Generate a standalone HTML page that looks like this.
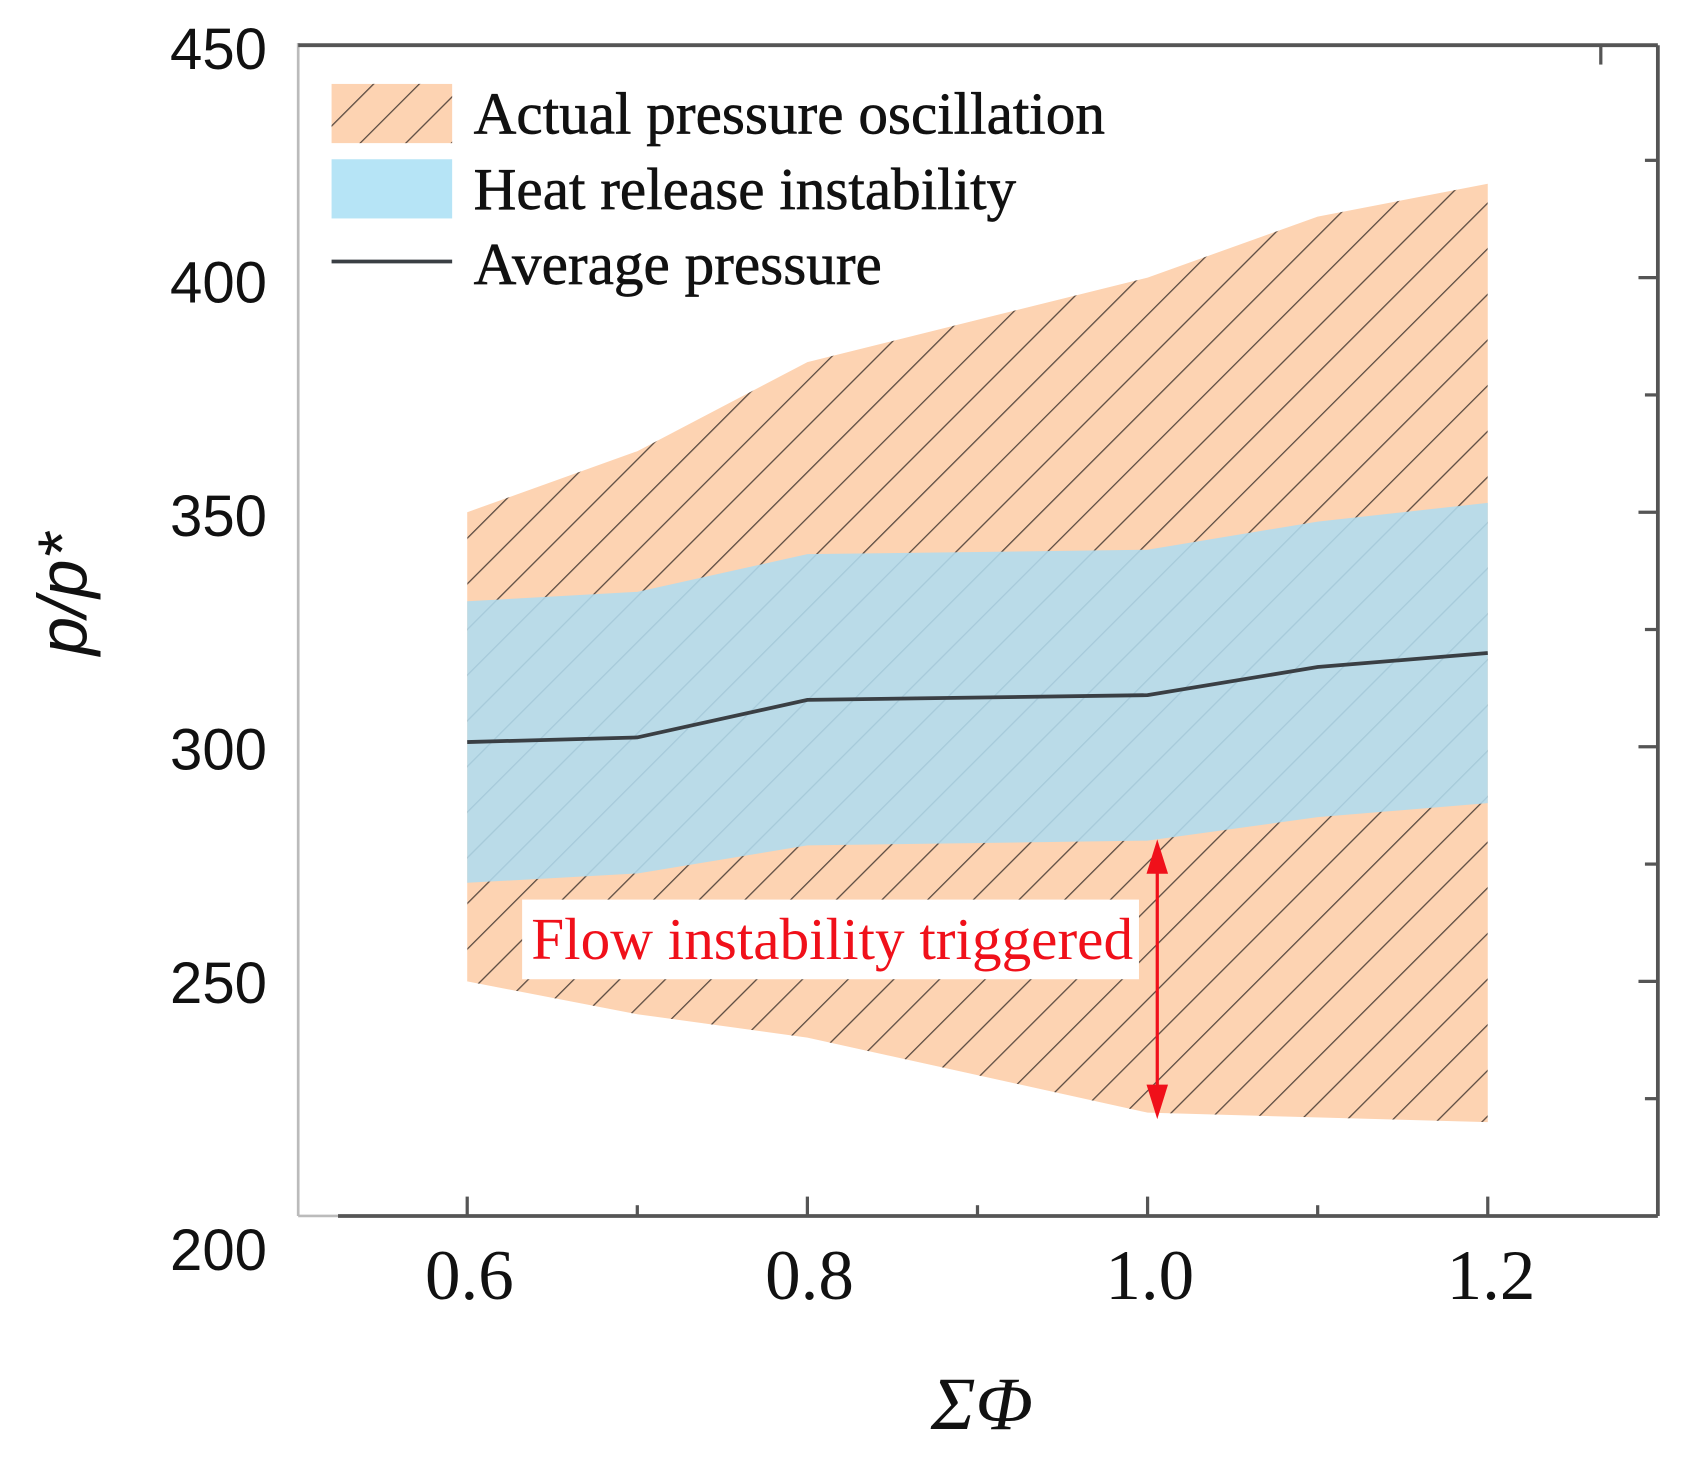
<!DOCTYPE html>
<html><head><meta charset="utf-8"><style>html,body{margin:0;padding:0;background:#fff}svg{display:block}</style></head>
<body>
<svg width="1688" height="1457" viewBox="0 0 1568 1354" preserveAspectRatio="none" xmlns="http://www.w3.org/2000/svg">
<defs>
<pattern id="h" patternUnits="userSpaceOnUse" width="30" height="30" patternTransform="rotate(45)">
<line x1="0" y1="0" x2="0" y2="30" stroke="#5a4a40" stroke-width="2.4"/>
</pattern>
<clipPath id="oc"><polygon points="434,476 592,419.3 750,336.5 1066,258 1224,201.3 1382,170.8 1382,1042.8 1066,1034 750,964.3 592,942.5 434,912"/></clipPath>
</defs>
<rect width="1568" height="1354" fill="#fff"/>
<polygon points="434,476 592,419.3 750,336.5 1066,258 1224,201.3 1382,170.8 1382,1042.8 1066,1034 750,964.3 592,942.5 434,912" fill="#fdd3b2"/>
<rect x="300" y="100" width="1200" height="1000" fill="url(#h)" clip-path="url(#oc)"/>
<polygon points="434,558.8 592,550 750,515 1066,510.9 1224,484.7 1382,467.3 1382,746.3 1224,759.4 1066,781.2 750,785.6 592,811.7 434,820.4" fill="#b1dcef" fill-opacity="0.88"/>
<polyline points="434,689.6 592,685.3 750,650.4 1066,646 1224,619.9 1382,606.8" fill="none" stroke="#3a3f44" stroke-width="3.5"/>
<line x1="277" y1="40" x2="277" y2="1130" stroke="#bbb" stroke-width="2.5"/>
<line x1="277" y1="1130" x2="314" y2="1130" stroke="#bbb" stroke-width="2.5"/>
<line x1="314" y1="1130" x2="1540" y2="1130" stroke="#555" stroke-width="3.5"/>
<line x1="277" y1="42" x2="1540" y2="42" stroke="#555" stroke-width="3.5"/>
<line x1="1540" y1="42" x2="1540" y2="1130" stroke="#555" stroke-width="3.5"/>
<g stroke="#555" stroke-width="3">
<line x1="434" y1="1130" x2="434" y2="1112"/><line x1="592" y1="1130" x2="592" y2="1120"/><line x1="750" y1="1130" x2="750" y2="1112"/><line x1="908" y1="1130" x2="908" y2="1120"/><line x1="1066" y1="1130" x2="1066" y2="1112"/><line x1="1224" y1="1130" x2="1224" y2="1120"/><line x1="1382" y1="1130" x2="1382" y2="1112"/>
<line x1="1487" y1="42" x2="1487" y2="60"/>
<line x1="1540" y1="149" x2="1528" y2="149"/><line x1="1540" y1="258" x2="1522" y2="258"/><line x1="1540" y1="367" x2="1528" y2="367"/><line x1="1540" y1="476" x2="1522" y2="476"/><line x1="1540" y1="585" x2="1528" y2="585"/><line x1="1540" y1="694" x2="1522" y2="694"/><line x1="1540" y1="803" x2="1528" y2="803"/><line x1="1540" y1="912" x2="1522" y2="912"/><line x1="1540" y1="1021" x2="1528" y2="1021"/>
</g>
<g font-family="Liberation Sans, sans-serif" font-size="54" fill="#111" text-anchor="end">
<text x="248" y="64">450</text><text x="248" y="281">400</text><text x="248" y="498">350</text><text x="248" y="715">300</text><text x="248" y="932">250</text><text x="248" y="1180">200</text>
</g>
<g font-family="Liberation Serif, serif" font-size="66" fill="#111" text-anchor="middle">
<text x="436" y="1207">0.6</text><text x="752" y="1207">0.8</text><text x="1068" y="1207">1.0</text><text x="1385" y="1207">1.2</text>
</g>
<text transform="translate(80,552) rotate(-90)" font-family="Liberation Sans, sans-serif" font-style="italic" font-size="64" text-anchor="middle" fill="#111">p/p*</text>
<text x="912" y="1328" font-family="Liberation Serif, serif" font-style="italic" font-size="70" text-anchor="middle" fill="#111">ΣΦ</text>
<rect x="308" y="78" width="112" height="55" fill="#fdd3b2"/>
<clipPath id="lc"><rect x="308" y="78" width="112" height="55"/></clipPath>
<rect x="300" y="70" width="130" height="70" fill="url(#h)" clip-path="url(#lc)"/>
<rect x="308" y="148" width="112" height="55" fill="#b6e4f6"/>
<line x1="308" y1="243" x2="420" y2="243" stroke="#3a3f44" stroke-width="3.5"/>
<g font-family="Liberation Serif, serif" font-size="55" fill="#111" stroke="#111" stroke-width="0.6">
<text x="440" y="124">Actual pressure oscillation</text>
<text x="440" y="194">Heat release instability</text>
<text x="440" y="264">Average pressure</text>
</g>
<rect x="485" y="836" width="573" height="74" fill="#fff"/>
<text x="773" y="891" font-family="Liberation Serif, serif" font-size="55" fill="#f0101a" text-anchor="middle">Flow instability triggered</text>
<line x1="1075" y1="800" x2="1075" y2="1020" stroke="#f0101a" stroke-width="3"/>
<polygon points="1075,780 1065,812 1085,812" fill="#f0101a"/>
<polygon points="1075,1040 1065,1008 1085,1008" fill="#f0101a"/>
</svg>
</body></html>
